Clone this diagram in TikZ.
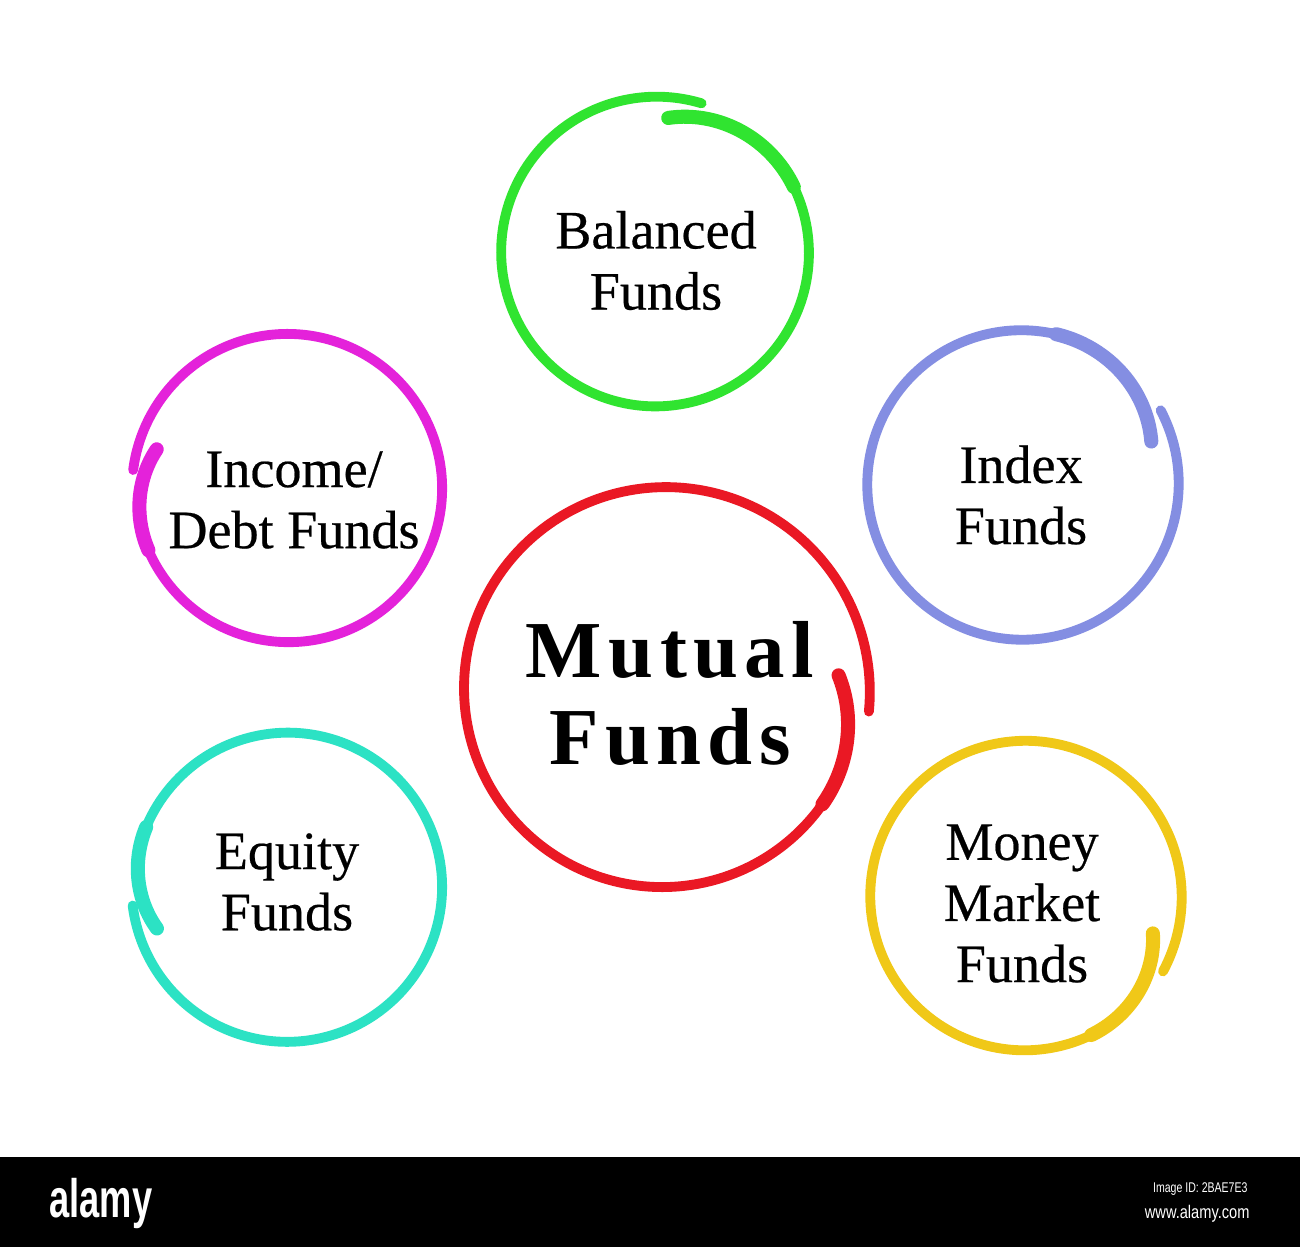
\documentclass[tikz,border=0pt]{standalone}
\usepackage{fontspec}
\setmainfont{Liberation Serif}
\newfontfamily\stampfont{Liberation Sans}
\usetikzlibrary{positioning,calc}

\definecolor{ringgreen}{RGB}{48,228,48}
\definecolor{ringmagenta}{RGB}{228,34,218}
\definecolor{ringblue}{RGB}{132,142,226}
\definecolor{ringred}{RGB}{234,24,36}
\definecolor{ringteal}{RGB}{44,226,196}
\definecolor{ringyellow}{RGB}{240,200,24}

\tikzset{
  brush/.style={line width=2.8pt, line cap=round, line join=round},
  fundlabel/.style={align=center, inner sep=0pt,
    font=\fontsize{15.4}{17.4}\selectfont\addfontfeature{FakeBold=0.4}},
  hublabel/.style={align=center, inner sep=0pt,
    font=\fontsize{23}{25}\selectfont\bfseries\addfontfeature{LetterSpace=8}},
  stamp/.style={text=white, inner sep=0pt},
}

% colour, centre, radius, start angle, sweep, overlap part, shrink, start excess
\newcommand{\brushring}[8]{%
  \pgfmathsetmacro\ovstart{1-#6}
  \draw[brush,#1,shift={#2}] plot[domain=0:1,samples=180,smooth]
    ({(#3+#8*(1-\x)-#7*(max(0,\x-1+#6)/#6)^2)*cos(#4+(#5)*\x)},
     {(#3+#8*(1-\x)-#7*(max(0,\x-1+#6)/#6)^2)*sin(#4+(#5)*\x)});
  \draw[brush,#1,line width=4pt,shift={#2}] plot[domain=\ovstart:1,samples=40,smooth]
    ({(#3+#8*(1-\x)-#7*(max(0,\x-1+#6)/#6)^2)*cos(#4+(#5)*\x)},
     {(#3+#8*(1-\x)-#7*(max(0,\x-1+#6)/#6)^2)*sin(#4+(#5)*\x)});
}

\begin{document}
\begin{tikzpicture}
 \fill[white] (0,0) rectangle (13,-12.47);
 \useasboundingbox (0,0) rectangle (13,-12.47);

 \coordinate (balancedc) at (6.56,-2.525);
 \coordinate (incomec) at (2.88,-4.89);
 \coordinate (indexc) at (10.22,-4.84);
 \coordinate (mutualc) at (6.64,-6.90);
 \coordinate (equityc) at (2.875,-8.865);
 \coordinate (moneyc) at (10.25,-8.965);

 \brushring{ringgreen}{(balancedc)}{1.52}{73}{372}{0.16}{0.17}{0.04}
 \brushring{ringmagenta}{(incomec)}{1.52}{173}{-370}{0.11}{0.15}{0.04}
 \brushring{ringblue}{(indexc)}{1.53}{28}{-370}{0.16}{0.17}{0.04}
 \brushring{ringred}{(mutualc)}{1.94}{-6}{371}{0.11}{0.19}{0.12}
 \brushring{ringteal}{(equityc)}{1.53}{187}{371}{0.11}{0.16}{0.03}
 \brushring{ringyellow}{(moneyc)}{1.53}{-28.5}{372.5}{0.13}{0.20}{0.04}

 \node[fundlabel] (balanced) at (6.56,-2.605) {Balanced\\Funds};
 \node[fundlabel] (income) at (2.94,-5.00) {Income/\\Debt Funds};
 \node[fundlabel] (index) at (10.21,-4.95) {Index\\Funds};
 \node[fundlabel] (equity) at (2.87,-8.82) {Equity\\Funds};
 \node[fundlabel] (money) at (10.22,-9.035) {Money\\Market\\Funds};
 \node[hublabel] (mutual) at (6.70,-6.935) {Mutual\\Funds};

 % stock banner
 \fill[black] (0,-11.57) rectangle (13,-12.47);
 \node[stamp, font=\stampfont\bfseries\fontsize{15.4}{16}\selectfont, xscale=0.67] (brand) at (1.01,-12.03) {alamy};
 \node[stamp, font=\stampfont\fontsize{4}{5}\selectfont, xscale=0.75, anchor=east] (imageid) at (12.48,-11.89) {Image ID: 2BAE7E3};
 \node[stamp, font=\stampfont\fontsize{5.2}{6}\selectfont, xscale=0.8, anchor=east] (site) at (12.50,-12.14) {www.alamy.com};
\end{tikzpicture}
\end{document}
